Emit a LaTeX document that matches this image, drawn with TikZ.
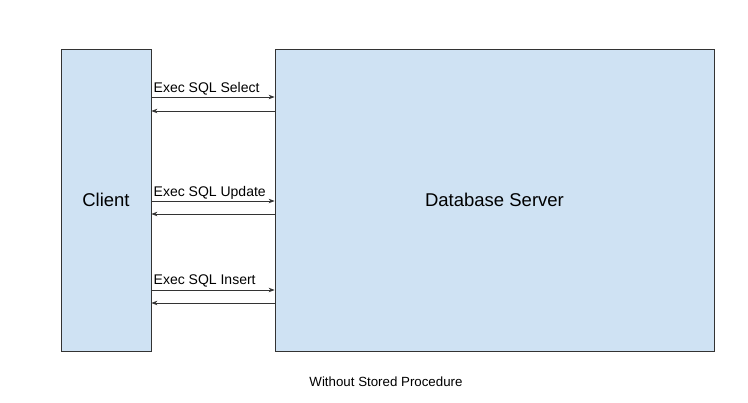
\documentclass[tikz,border=0pt]{standalone}
\usepackage{fontspec}
\setmainfont{Liberation Sans}
\usetikzlibrary{arrows.meta}
\definecolor{boxblue}{HTML}{CFE2F3}
\definecolor{linegray}{HTML}{333333}
\tikzset{
  box/.style={draw=linegray,fill=boxblue,line width=0.8pt,inner sep=0pt},
  msg/.style={font=\fontsize{14}{16}\selectfont,anchor=base west,inner sep=0pt},
  call/.style={->,draw=linegray,line width=0.8pt}
}
\begin{document}
\begin{tikzpicture}[x=1pt,y=-1pt,>={Stealth[length=6pt,width=4.5pt]}]
\useasboundingbox[fill=white](0,0) rectangle (748,403);
\node[box,minimum width=90,minimum height=302,font=\fontsize{18.5}{21}\selectfont](client) at (106,200) {Client};
\node[box,minimum width=439,minimum height=302,font=\fontsize{18.5}{21}\selectfont](db) at (494.5,200) {Database Server};
% select
\node[msg](sel) at (153.5,93) {Exec SQL Select};
\draw[call](client.east |- 0,97)--(db.west |- 0,97);
\draw[call](db.west |- 0,111)--(client.east |- 0,111);
% update
\node[msg](upd) at (153.5,197) {Exec SQL Update};
\draw[call](client.east |- 0,201)--(db.west |- 0,201);
\draw[call](db.west |- 0,214)--(client.east |- 0,214);
% insert
\node[msg](ins) at (153.5,285) {Exec SQL Insert};
\draw[call](client.east |- 0,290)--(db.west |- 0,290);
\draw[call](db.west |- 0,303)--(client.east |- 0,303);
\node[font=\fontsize{13.3}{15}\selectfont](cap) at (386,382) {Without Stored Procedure};
\end{tikzpicture}
\end{document}
